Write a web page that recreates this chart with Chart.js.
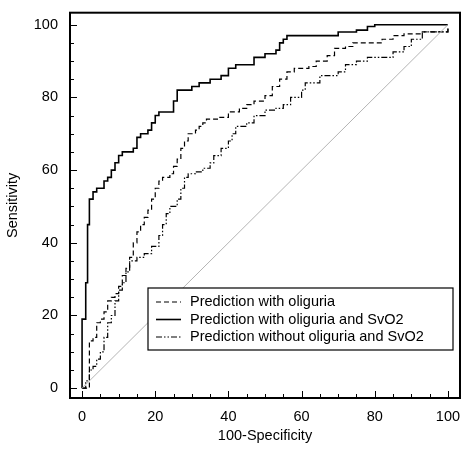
<!DOCTYPE html>
<html>
<head>
<meta charset="utf-8">
<script src="https://cdn.jsdelivr.net/npm/chart.js@4"></script>
<style>
  body { margin: 0; background: #fff; }
  #wrap { width: 474px; height: 449px; }
</style>
</head>
<body>
<div id="wrap"><canvas id="roc"></canvas></div>
<script>
// ROC curves: [100-Specificity, Sensitivity]
const withOliguriaSvO2 = [[0,0],[0,19],[1,23],[1,29],[1.5,45],[2,52],[3,54],[4,55],[6,57],[7,58],[8,60],[9,62],[10,64],[11,65],[14,66],[15,69],[16,70],[18,71],[19,73],[20,75],[21,76],[24,76],[25,79],[26,82],[29,82],[30,83],[32,84],[35,85],[38,86],[40,88],[42,89],[45,89],[47,91],[50,92],[53,93],[54,95],[55,96],[56,97],[65,97],[70,98],[75,98.5],[78,99.5],[80,100],[100,100]];
const withOliguria = [[0,0],[2,0],[2,13],[3,14],[4,18],[5,19],[6,21],[7,24],[8,25],[9,26],[10,28],[11,31],[12,33],[13,36],[14,40],[15,43],[16,45],[17,47],[18,49],[19,52],[20,55],[21,57],[22,58],[24,59],[25,61],[26,63],[27,66],[28,68],[29,70],[31,71],[32,72],[33,73],[34,74],[37,74.5],[40,76],[43,77],[45,78],[47,79],[50,80.5],[52,83],[54,85],[56,87],[58,88],[62,88.5],[64,90],[67,91.5],[69,93.5],[72,94],[74,95],[78,95],[82,96],[85,97],[88,97.5],[93,98],[100,99]];
const withoutBoth = [[0,0],[1,2],[2,5],[3,6],[4,8],[5,10],[6,14],[7,18],[8,20],[9,24],[10,27],[11,29],[12,32],[13,35],[15,36],[17,37],[19,39],[21,42],[22,45],[23,48],[24,50],[26,52],[27,55],[28,58],[29,59],[31,59.5],[33,60.5],[35,62],[36,64],[38,66],[40,68],[41,70],[42,72],[45,73],[47,75],[50,76.5],[53,77],[55,78],[57,80],[60,82],[61,84],[65,86],[70,87],[72,89],[75,90],[78,91],[82,91],[85,92.5],[88,94],[90,96],[93,98],[100,99]];
const reference = [[0,0],[100,100]];
const tickValues = [0, 20, 40, 60, 80, 100];
const legendLabels = ['Prediction with oliguria', 'Prediction with oliguria and SvO2', 'Prediction without oliguria and SvO2'];

const FONT = 'Arial, "Liberation Sans", sans-serif';
const dashes = [[5, 3], [], [6, 2, 1.5, 2, 1.5, 2]];
const toXY = arr => arr.map(p => ({ x: p[0], y: p[1] }));

// frame, inner ticks and boxed legend
const decorations = {
  id: 'decorations',
  afterDraw(chart) {
    const { ctx, chartArea: a, scales: { x, y } } = chart;
    ctx.save();
    ctx.strokeStyle = '#000';
    ctx.lineWidth = 2;
    ctx.strokeRect(a.left, a.top, a.right - a.left, a.bottom - a.top);
    ctx.lineWidth = 1;
    ctx.beginPath();
    for (let v = 0; v <= 100; v += 5) {
      const len = v % 20 === 0 ? 7 : 4;
      const px = Math.round(x.getPixelForValue(v)) + 0.5;
      ctx.moveTo(px, a.bottom); ctx.lineTo(px, a.bottom - len);
      const py = Math.round(y.getPixelForValue(v)) + 0.5;
      ctx.moveTo(a.left, py); ctx.lineTo(a.left + len, py);
    }
    ctx.stroke();

    // legend
    const lx = 148, ly = 288, lw = 305, lh = 62;
    ctx.lineWidth = 1.2;
    ctx.fillStyle = '#fff';
    ctx.fillRect(lx, ly, lw, lh);
    ctx.strokeRect(lx, ly, lw, lh);
    ctx.font = '14.5px ' + FONT;
    ctx.fillStyle = '#000';
    ctx.textBaseline = 'middle';
    legendLabels.forEach((t, i) => {
      const ry = ly + 14 + i * 17.5;
      ctx.setLineDash(dashes[i]);
      ctx.lineWidth = i === 1 ? 1.6 : 1.2;
      ctx.beginPath(); ctx.moveTo(156, ry); ctx.lineTo(181, ry); ctx.stroke();
      ctx.setLineDash([]);
      ctx.fillText(t, 190, ry);
    });
    ctx.restore();
  }
};

const curve = (data, dash, width) => ({
  data: toXY(data), borderColor: '#000', borderWidth: width, borderDash: dash,
  pointRadius: 0, stepped: 'before', fill: false
});

new Chart(document.getElementById('roc'), {
  type: 'line',
  data: {
    datasets: [
      { data: toXY(reference), borderColor: '#b4b4b4', borderWidth: 1, pointRadius: 0 },
      curve(withoutBoth, dashes[2], 1.2),
      curve(withOliguria, dashes[0], 1.2),
      curve(withOliguriaSvO2, dashes[1], 1.6)
    ]
  },
  options: {
    responsive: true,
    maintainAspectRatio: false,
    animation: false,
    layout: { padding: { top: 10, right: 14, left: 0, bottom: 0 } },
    plugins: { legend: { display: false }, tooltip: { enabled: false } },
    scales: {
      x: {
        type: 'linear', min: -3.3, max: 103.3,
        grid: { display: false }, border: { display: false },
        afterBuildTicks: s => { s.ticks = tickValues.map(v => ({ value: v })); },
        afterFit: s => { s.height = 51; },
        ticks: { color: '#000', font: { family: FONT, size: 14.5 }, padding: 2 },
        title: { display: true, text: '100-Specificity', color: '#000', font: { family: FONT, size: 14.5 }, padding: { top: 4 } }
      },
      y: {
        type: 'linear', min: -2.7, max: 103.3,
        grid: { display: false }, border: { display: false },
        afterBuildTicks: s => { s.ticks = tickValues.map(v => ({ value: v })); },
        afterFit: s => { s.width = 70; },
        ticks: { color: '#000', font: { family: FONT, size: 14.5 }, padding: 4 },
        title: { display: true, text: 'Sensitivity', color: '#000', font: { family: FONT, size: 14.5 }, padding: { top: 4, bottom: 6 } }
      }
    }
  },
  plugins: [decorations]
});
</script>
</body>
</html>
